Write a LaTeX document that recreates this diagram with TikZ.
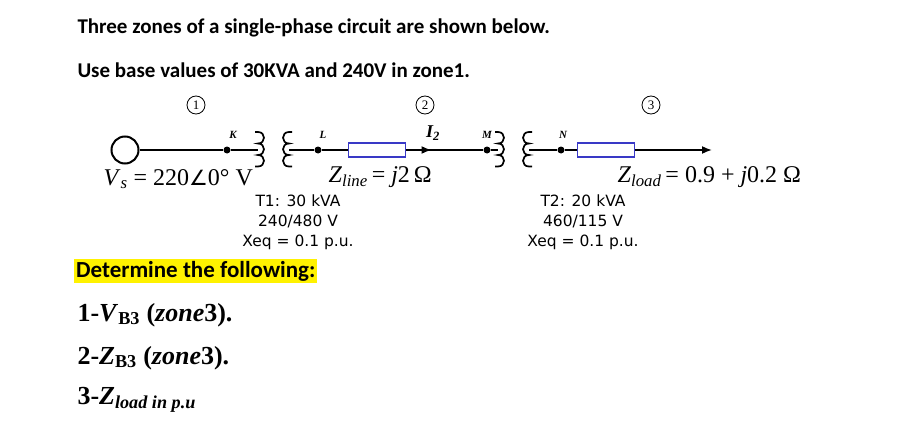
\documentclass[tikz,border=0pt]{standalone}
\usepackage{fontspec}
\setmainfont{Carlito}
\newfontfamily\tms{Liberation Serif}
\newfontfamily\vera{DejaVu Sans}
\usetikzlibrary{arrows.meta,decorations.markings}
\begin{document}
\begin{tikzpicture}[x=1pt,y=-1pt,
  wire/.style={line width=1.7pt},
  dotn/.style={circle,fill,inner sep=0pt,minimum size=7pt},
  zbox/.style={draw=blue!55!gray,line width=1.4pt,minimum width=57pt,minimum height=14pt,inner sep=0pt,fill=white},
  head/.style={anchor=west,font=\fontsize{21}{24}\selectfont\bfseries},
  tspec/.style={align=center,font=\fontsize{15.5}{20}\selectfont\vera},
  eq/.style={font=\fontsize{24}{26}\selectfont\tms},
  q/.style={anchor=west,font=\fontsize{26}{28}\selectfont\bfseries\tms},
  lbl/.style={font=\fontsize{11}{11}\selectfont\bfseries\itshape\tms}]
\useasboundingbox (0,0) rectangle (914,428);
\node[head] (t1) at (74,28) {Three zones of a single-phase circuit are shown below.};
\node[head] (t2) at (74,70) {Use base values of 30KVA and 240V in zone1.};
\foreach \n/\x/\t in {z1/196/1,z2/425/2,z3/651/3}
  \node[circle,draw,line width=0.8pt,minimum size=18pt,inner sep=0pt,font=\fontsize{13}{13}\selectfont\tms] (\n) at (\x,105) {\t};
% source
\node[circle,draw,line width=2pt,minimum size=27pt,inner sep=0pt] (src) at (125,150) {};
\node[dotn] (K) at (227,150) {};
\node[dotn] (L) at (318,150) {};
\node[dotn] (M) at (487,150) {};
\node[dotn] (N) at (561,150) {};
\coordinate (p1) at (258,150);
\coordinate (s1) at (289,150);
\coordinate (p2) at (498,150);
\coordinate (s2) at (529,150);
\node[zbox] (zl) at (377,150) {};
\node[zbox] (zd) at (606,150) {};
\coordinate (end) at (712,150);
\draw[wire] (src) -- (K) -- (p1);
\draw[wire] (s1) -- (L) -- (zl);
\draw[wire,decoration={markings,mark=at position 0.3 with {\arrow{Latex[length=10pt,width=8pt]}}},postaction=decorate] (zl) -- (M) -- (p2);
\draw[wire] (s2) -- (N) -- (zd);
\draw[wire,-{Latex[length=10pt,width=8pt]}] (zd) -- (end);
% coils
\foreach \x in {258,498}{
  \draw[wire] (\x-3,132) -- (\x,132)
    .. controls (\x+8,132) and (\x+8,143.5) .. (\x,143.5)
    .. controls (\x+8,143.5) and (\x+8,155) .. (\x,155)
    .. controls (\x+8,155) and (\x+8,166.5) .. (\x,166.5) -- (\x-3,166.5);
}
\foreach \x in {289,529}{
  \draw[wire] (\x+3,132) -- (\x,132)
    .. controls (\x-8,132) and (\x-8,143.5) .. (\x,143.5)
    .. controls (\x-8,143.5) and (\x-8,155) .. (\x,155)
    .. controls (\x-8,155) and (\x-8,166.5) .. (\x,166.5) -- (\x+3,166.5);
}
\node[lbl] at (233,135) {K};
\node[lbl] at (323,135) {L};
\node[lbl] at (487,135) {M};
\node[lbl] at (563,135) {N};
\node[font=\fontsize{18}{18}\selectfont\bfseries\itshape\tms] at (433,133) {I\textsubscript{2}};
\node[eq,anchor=west] (vs) at (100,179) {\textit{V}\textsubscript{\textit{s}} = 220{\vera\fontsize{21}{22}\selectfont∠}0° V};
\node[eq,anchor=west] (zline) at (325,177) {\textit{Z}\textsubscript{\textit{line}}\,= \textit{j}2\,Ω};
\node[eq,anchor=west] (zload) at (614,177) {\textit{Z}\textsubscript{\textit{load}}\,= 0.9 + \textit{j}0.2 Ω};
\node[tspec] (T1) at (298,222) {T1: 30 kVA\\240/480 V\\Xeq = 0.1 p.u.};
\node[tspec] (T2) at (583,222) {T2: 20 kVA\\460/115 V\\Xeq = 0.1 p.u.};
\node[head,fill=yellow,inner sep=2pt,font=\fontsize{23}{26}\selectfont\bfseries] (det) at (74,271) {Determine the following:};
\node[q] (q1) at (74,315) {1-\textit{V}\textsubscript{B3} (\textit{zone}3).};
\node[q] (q2) at (74,358) {2-\textit{Z}\textsubscript{B3} (\textit{zone}3).};
\node[q] (q3) at (74,400) {3-\textit{Z}\textsubscript{\textit{load in p.u}}};
\end{tikzpicture}
\end{document}
